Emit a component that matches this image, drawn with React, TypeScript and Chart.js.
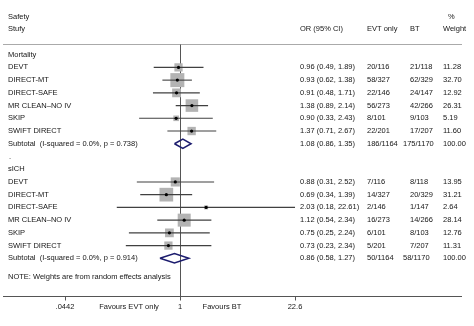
import React, { useEffect, useRef } from "react";
import { Chart, registerables } from "chart.js";

Chart.register(...registerables);

// ---------- data ----------
const studies = ["DEVT", "DIRECT-MT", "DIRECT-SAFE", "MR CLEAN\u2013NO IV", "SKIP", "SWIFT DIRECT"];

const mortalityOR = [0.96, 0.93, 0.91, 1.38, 0.9, 1.37];
const mortalityLo = [0.49, 0.62, 0.48, 0.89, 0.33, 0.71];
const mortalityHi = [1.89, 1.38, 1.71, 2.14, 2.43, 2.67];
const mortalityEVT = ["20/116", "58/327", "22/146", "56/273", "8/101", "22/201"];
const mortalityBT = ["21/118", "62/329", "24/147", "42/266", "9/103", "17/207"];
const mortalityWeight = [11.28, 32.7, 12.92, 26.31, 5.19, 11.6];
const mortalitySubtotal = { or: 1.08, lo: 0.86, hi: 1.35, evt: "186/1164", bt: "175/1170", weight: 100.0, i2: "0.0%", p: "0.738" };

const sichOR = [0.88, 0.69, 2.03, 1.12, 0.75, 0.73];
const sichLo = [0.31, 0.34, 0.18, 0.54, 0.25, 0.23];
const sichHi = [2.52, 1.39, 22.61, 2.34, 2.24, 2.34];
const sichEVT = ["7/116", "14/327", "2/146", "16/273", "6/101", "5/201"];
const sichBT = ["8/118", "20/329", "1/147", "14/266", "8/103", "7/207"];
const sichWeight = [13.95, 31.21, 2.64, 28.14, 12.76, 11.31];
const sichSubtotal = { or: 0.86, lo: 0.58, hi: 1.27, evt: "50/1164", bt: "58/1170", weight: 100.0, i2: "0.0%", p: "0.914" };

const xTicks = [0.0442, 1, 22.6];
const xTickLabels = [".0442", "1", "22.6"];
const favourLabels = ["Favours EVT only", "Favours BT"];
const headerLeft = ["Safety", "Stufy"];
const headerCols = ["OR (95% CI)", "EVT only", "BT", "Weight"];
const noteText = "NOTE: Weights are from random effects analysis";

// ---------- row layout (row indices) ----------
const MORT_HEAD = 3;
const MORT_START = 4;
const MORT_SUB = 10;
const DOT_ROW = 11;
const SICH_HEAD = 12;
const SICH_START = 13;
const SICH_SUB = 19;
const NOTE_ROW = 20.5;
const RULE_ROW = 2.2;
const AXIS_ROW = 21.95;
const TICKLBL_ROW = 22.8;

const FONT = "7.5px 'Liberation Sans', Arial, sans-serif";
const TEXT = "#161616";
const LINE = "#404040";
const SQUARE = "#b3b3b3";
const NAVY = "#1c1c6e";

const fmt = (v: number) => v.toFixed(2);
const ciText = (o: number, l: number, h: number) => `${fmt(o)} (${fmt(l)}, ${fmt(h)})`;

export default function App() {
  const ref = useRef<HTMLCanvasElement | null>(null);

  useEffect(() => {
    if (!ref.current) return;

    const rowsMort = studies.map((_, i) => MORT_START + i);
    const rowsSich = studies.map((_, i) => SICH_START + i);

    const allOR = [...mortalityOR, ...sichOR];
    const allLo = [...mortalityLo, ...sichLo];
    const allHi = [...mortalityHi, ...sichHi];
    const allW = [...mortalityWeight, ...sichWeight];
    const allRows = [...rowsMort, ...rowsSich];

    const ciDatasets = allOR.map((_, i) => ({
      type: "scatter" as const,
      data: [
        { x: allLo[i], y: allRows[i] },
        { x: allHi[i], y: allRows[i] },
      ],
      showLine: true,
      borderColor: LINE,
      borderWidth: 1.1,
      pointRadius: 0,
      order: 2,
      clip: false as any,
    }));

    const diamond = (s: typeof mortalitySubtotal, row: number) => ({
      type: "scatter" as const,
      data: [
        { x: s.lo, y: row },
        { x: s.or, y: row - 0.37 },
        { x: s.hi, y: row },
        { x: s.or, y: row + 0.37 },
        { x: s.lo, y: row },
      ],
      showLine: true,
      borderColor: NAVY,
      borderWidth: 1.5,
      pointRadius: 0,
      fill: false,
      order: 1,
      clip: false as any,
    });

    const squareSide = (w: number) => 2.45 * Math.sqrt(w);

    const datasets: any[] = [
      {
        type: "scatter",
        data: allOR.map((v, i) => ({ x: v, y: allRows[i] })),
        pointStyle: "rect",
        pointRadius: allW.map((w) => squareSide(w) / Math.SQRT2),
        backgroundColor: SQUARE,
        borderWidth: 0,
        order: 3,
        clip: false,
      },
      ...ciDatasets,
      {
        type: "scatter",
        data: allOR.map((v, i) => ({ x: v, y: allRows[i] })),
        pointStyle: "circle",
        pointRadius: 1.6,
        backgroundColor: "#000",
        borderWidth: 0,
        order: 1,
        clip: false,
      },
      diamond(mortalitySubtotal, MORT_SUB),
      diamond(sichSubtotal, SICH_SUB),
    ];

    const decor = {
      id: "forestDecor",
      beforeDatasetsDraw(chart: any) {
        const ctx = chart.ctx;
        const xs = chart.scales.x;
        const ys = chart.scales.y;
        ctx.save();
        // top rule
        ctx.strokeStyle = "#aaa";
        ctx.lineWidth = 1;
        const ry = Math.round(ys.getPixelForValue(RULE_ROW)) + 0.5;
        ctx.beginPath();
        ctx.moveTo(3, ry);
        ctx.lineTo(462, ry);
        ctx.stroke();
        // axis line
        const ay = Math.round(ys.getPixelForValue(AXIS_ROW)) + 0.5;
        ctx.strokeStyle = "#555";
        ctx.beginPath();
        ctx.moveTo(3, ay);
        ctx.lineTo(462, ay);
        ctx.stroke();
        // ticks
        xTicks.forEach((t) => {
          const px = Math.round(xs.getPixelForValue(t)) + 0.5;
          ctx.beginPath();
          ctx.moveTo(px, ay);
          ctx.lineTo(px, ay + 4);
          ctx.stroke();
        });
        // reference line at 1
        const x1 = Math.round(xs.getPixelForValue(1)) + 0.5;
        ctx.beginPath();
        ctx.moveTo(x1, ry);
        ctx.lineTo(x1, ay);
        ctx.stroke();
        ctx.restore();
      },
      afterDatasetsDraw(chart: any) {
        const ctx = chart.ctx;
        const xs = chart.scales.x;
        const ys = chart.scales.y;
        const Y = (r: number) => ys.getPixelForValue(r);
        ctx.save();
        ctx.font = FONT;
        ctx.fillStyle = TEXT;
        ctx.textBaseline = "middle";
        ctx.textAlign = "left";
        const L = 8;
        const cOR = 300;
        const cEVT = 367;
        const cBT = 410;
        const cBTsub = 403;
        const cW = 443;

        ctx.fillText(headerLeft[0], L, Y(0));
        ctx.fillText(headerLeft[1], L, Y(1));
        ctx.fillText("%", 448, Y(0));
        ctx.fillText(headerCols[0], cOR, Y(1));
        ctx.fillText(headerCols[1], cEVT, Y(1));
        ctx.fillText(headerCols[2], cBT, Y(1));
        ctx.fillText(headerCols[3], cW, Y(1));

        const block = (
          head: string, headRow: number, start: number,
          or: number[], lo: number[], hi: number[], evt: string[], bt: string[], w: number[],
          sub: typeof mortalitySubtotal, subRow: number
        ) => {
          ctx.fillText(head, L, Y(headRow));
          studies.forEach((s, i) => {
            const y = Y(start + i);
            ctx.fillText(s, L, y);
            ctx.fillText(ciText(or[i], lo[i], hi[i]), cOR, y);
            ctx.fillText(evt[i], cEVT, y);
            ctx.fillText(bt[i], cBT, y);
            ctx.fillText(fmt(w[i]), cW, y);
          });
          const y = Y(subRow);
          ctx.fillText(`Subtotal  (I-squared = ${sub.i2}, p = ${sub.p})`, L, y);
          ctx.fillText(ciText(sub.or, sub.lo, sub.hi), cOR, y);
          ctx.fillText(sub.evt, cEVT, y);
          ctx.fillText(sub.bt, cBTsub, y);
          ctx.fillText(fmt(sub.weight), cW, y);
        };
        block("Mortality", MORT_HEAD, MORT_START, mortalityOR, mortalityLo, mortalityHi, mortalityEVT, mortalityBT, mortalityWeight, mortalitySubtotal, MORT_SUB);
        ctx.fillText(".", L + 1, Y(DOT_ROW));
        block("sICH", SICH_HEAD, SICH_START, sichOR, sichLo, sichHi, sichEVT, sichBT, sichWeight, sichSubtotal, SICH_SUB);
        ctx.fillText(noteText, L, Y(NOTE_ROW));

        // tick labels
        ctx.textAlign = "center";
        const ty = Y(TICKLBL_ROW);
        xTicks.forEach((t, i) => ctx.fillText(xTickLabels[i], xs.getPixelForValue(t), ty));
        ctx.fillText(favourLabels[0], 129, ty);
        ctx.fillText(favourLabels[1], 222, ty);
        ctx.restore();
      },
    };

    const chart = new Chart(ref.current, {
      type: "scatter",
      data: { datasets },
      options: {
        responsive: false,
        maintainAspectRatio: false,
        animation: false,
        layout: { padding: { left: 65, right: 179, top: 0, bottom: 0 } },
        scales: {
          x: { type: "logarithmic", min: xTicks[0], max: xTicks[2], display: false },
          y: { type: "linear", min: -0.517, max: 23.54, reverse: true, display: false },
        },
        plugins: { legend: { display: false }, tooltip: { enabled: false } },
        events: [],
      },
      plugins: [decor],
    } as any);

    return () => chart.destroy();
  }, []);

  return (
    <div style={{ position: "fixed", left: 0, top: 0, width: 474, height: 326, background: "#fff" }}>
      <canvas ref={ref} width={474} height={326} style={{ width: 474, height: 326 }} />
    </div>
  );
}
